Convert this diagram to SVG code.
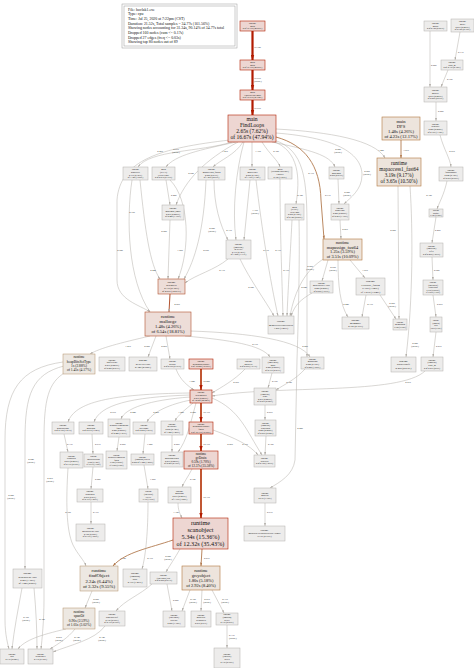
<svg xmlns="http://www.w3.org/2000/svg" width="474" height="668" viewBox="0 0 474 668">
<style>
text{font-family:"Liberation Serif","DejaVu Serif",serif;fill:#111}
.s{font-size:2.3px;text-anchor:middle}
.l{font-size:2.6px;text-anchor:middle;fill:#333}
.ls{font-size:2.6px;text-anchor:start;fill:#333}
.lg{font-size:3.9px}
.g rect{fill:#edeceb;stroke:#b2b0ad;stroke-width:0.5}
.r rect{fill:#edd6d2;stroke:#b21e00;stroke-width:0.6}
.t rect{fill:#ede4dc;stroke:#b2773f;stroke-width:0.6}
.k rect{fill:#edddd8;stroke:#b2532f;stroke-width:0.6}
.y rect{fill:#ede8e2;stroke:#b2916a;stroke-width:0.5}
.e path{fill:none;stroke:#b2aea8;stroke-width:0.5;marker-end:url(#ag)}
.e path.rd{stroke:#b21b00;stroke-width:2.2;marker-end:url(#ar)}
.e path.rm{stroke:#b22d00;stroke-width:1.6;marker-end:url(#ar)}
.e path.br{stroke:#b27a4f;stroke-width:0.9;marker-end:url(#ab)}
</style>
<defs>
<marker id="ag" viewBox="0 0 6 4" refX="6" refY="2" markerWidth="3" markerHeight="2" markerUnits="userSpaceOnUse" orient="auto"><path d="M0,0L6,2L0,4z" fill="#b2aea8"/></marker>
<marker id="ar" viewBox="0 0 6 4" refX="6" refY="2" markerWidth="5" markerHeight="4" markerUnits="userSpaceOnUse" orient="auto"><path d="M0,0L6,2L0,4z" fill="#b21b00"/></marker>
<marker id="ab" viewBox="0 0 6 4" refX="6" refY="2" markerWidth="3.5" markerHeight="2.6" markerUnits="userSpaceOnUse" orient="auto"><path d="M0,0L6,2L0,4z" fill="#b27a4f"/></marker>
</defs>
<rect width="474" height="668" fill="#fff"/>

<g id="legend">
<rect x="122" y="4" width="115" height="44" fill="#fff" stroke="#999" stroke-width="0.5"/>
<rect x="124" y="6" width="111" height="40" fill="none" stroke="#999" stroke-width="0.5"/>
<text class="lg" x="128" y="10.5">File: havlak1.exe</text>
<text class="lg" x="128" y="15.2">Type: cpu</text>
<text class="lg" x="128" y="19.9">Time: Jul 25, 2020 at 7:22pm (CST)</text>
<text class="lg" x="128" y="24.6">Duration: 21.52s, Total samples = 34.77s (161.56%)</text>
<text class="lg" x="128" y="29.3">Showing nodes accounting for 31.34s, 90.14% of 34.77s total</text>
<text class="lg" x="128" y="34">Dropped 160 nodes (cum &lt;= 0.17s)</text>
<text class="lg" x="128" y="38.7">Dropped 27 edges (freq &lt;= 0.03s)</text>
<text class="lg" x="128" y="43.4">Showing top 80 nodes out of 89</text>
</g>

<g id="edges" class="e">
<path class="rd" d="M252.5,31L252.5,60"/>
<path class="rd" d="M252.5,70L252.5,90"/>
<path class="rd" d="M252.5,100L252.5,115"/>
<path d="M232,142C200,152 150,150 138,167"/>
<path d="M236,142C200,150 175,155 166,167"/>
<path d="M243,142C235,155 220,160 213,167"/>
<path d="M252,142L252,167"/>
<path d="M262,142C270,155 278,160 280,167"/>
<path d="M272,142C310,150 330,155 335,167"/>
<path d="M230,140C160,148 120,160 117,200L117,280C117,300 140,305 150,312"/>
<path d="M238,142C205,160 185,180 176,205"/>
<path d="M244,142C236,170 232,210 236,240"/>
<path d="M272,141C300,150 300,180 296,204"/>
<path d="M274,140C305,150 307,180 307,230L307,357"/>
<path class="br" d="M276,137C305,145 320,165 321,200L324,239"/>
<path d="M276,133C340,138 362,155 362,175C362,190 350,198 344,204"/>
<path d="M338,179L339,204"/>
<path d="M340,220L341,239"/>
<path d="M276,129C330,132 375,140 385,158"/>
<path class="br" d="M401,140L401,158"/>
<path d="M440,135C444,150 450,158 451,167"/>
<path d="M430,31L430,87"/>
<path d="M460,32L455,60"/>
<path d="M448,70L441,87"/>
<path d="M436,102L436,121"/>
<path d="M447,181C444,195 439,203 437,209"/>
<path d="M436,217L432,243"/>
<path d="M432,257L433,280"/>
<path d="M433,295L436,317"/>
<path d="M436,332L433,357"/>
<path d="M425,371C400,395 280,385 212,396"/>
<path d="M398,186L399,319"/>
<path d="M410,186C413,230 413,300 406,357"/>
<path d="M328,260L322,281"/>
<path d="M350,260L365,278"/>
<path d="M325,258C305,270 295,290 290,316"/>
<path d="M338,260C338,285 340,305 348,317"/>
<path d="M366,295L362,317"/>
<path d="M380,295L396,319"/>
<path d="M166,180L170,205"/>
<path d="M170,220L168,279"/>
<path d="M170,180C190,200 190,250 178,279"/>
<path d="M140,180C145,230 150,265 160,279"/>
<path d="M132,180C126,220 128,280 150,312"/>
<path d="M206,180C204,230 195,260 184,279"/>
<path d="M214,180C214,205 220,225 228,240"/>
<path d="M250,180L244,240"/>
<path d="M228,259C215,270 195,275 185,283"/>
<path d="M240,259C250,280 265,300 274,316"/>
<path d="M256,180C262,230 270,280 278,316"/>
<path d="M280,179C280,230 282,280 283,316"/>
<path d="M292,220C290,260 288,290 287,316"/>
<path d="M312,293C300,300 295,305 291,316"/>
<path d="M299,220C300,260 298,330 297,360L295,460C293,475 280,482 270,488"/>
<path class="k2" d="M170,294L169,312" style="stroke:#b2532f;stroke-width:1"/>
<path d="M150,336C120,343 100,348 90,354"/>
<path d="M156,336L148,357"/>
<path d="M166,336L170,359"/>
<path d="M185,336C230,340 262,345 270,357"/>
<path d="M190,331C250,333 300,340 310,357"/>
<path d="M176,369C180,380 188,386 194,390"/>
<path class="rm" d="M201,369L201,390"/>
<path d="M245,369C235,380 220,388 212,393"/>
<path d="M272,373L268,388"/>
<path d="M305,369C295,380 285,384 276,390"/>
<path class="rm" d="M201,403L201,422"/>
<path d="M193,403C185,410 178,415 175,421"/>
<path d="M196,403C190,425 187,440 178,452"/>
<path d="M265,405L265,420"/>
<path class="rm" d="M201,434L201,451"/>
<path d="M172,435L172,452"/>
<path d="M213,430C235,438 250,445 258,455"/>
<path d="M212,398C240,410 246,430 262,455"/>
<path d="M266,436L265,455"/>
<path d="M192,469C188,477 184,482 182,487"/>
<path class="rm" d="M201,469L201,518"/>
<path d="M178,503C178,510 180,514 182,518"/>
<path d="M265,503L265,526"/>
<path d="M190,393C110,394 75,402 68,422"/>
<path d="M190,395C130,397 100,405 94,422"/>
<path d="M190,397C150,400 125,408 121,419"/>
<path d="M191,400C170,404 152,412 147,422"/>
<path d="M64,434L68,452"/>
<path d="M92,434L93,454"/>
<path d="M119,437L117,451"/>
<path d="M145,434L143,454"/>
<path d="M93,467L91,489"/>
<path d="M144,465L148,489"/>
<path d="M68,468C66,500 66,530 73,545C78,555 84,560 86,566"/>
<path d="M91,502L91,524"/>
<path class="br" d="M173,540C150,548 125,552 113,566"/>
<path d="M148,502C148,530 146,555 142,569"/>
<path d="M180,549C175,558 170,565 166,572"/>
<path class="br" d="M202,549L201,566"/>
<path d="M167,584L172,611"/>
<path d="M190,590L182,611"/>
<path d="M202,590L201,611"/>
<path d="M212,590L224,613"/>
<path d="M152,584C140,595 125,600 116,611"/>
<path d="M227,625L227,648"/>
<path d="M92,591L85,608"/>
<path d="M63,362C20,368 5,390 5,440L5,620C5,635 8,645 9,649"/>
<path d="M64,366C32,374 25,395 25,440L25,569"/>
<path d="M66,372C48,382 44,400 44,440L44,600C44,620 42,640 41,649"/>
<path d="M22,588C18,610 14,630 12,649"/>
<path d="M34,588C36,610 37,630 37,649"/>
<path d="M66,629C40,635 25,640 18,649"/>
<path d="M75,629C68,638 58,644 50,649"/>
<path d="M105,626C95,640 70,645 53,652"/>
</g>

<g id="edge-labels">
<text class="ls" x="254" y="48">16.79s</text>
<text class="ls" x="254" y="79">16.67s</text><text class="ls" x="254" y="82">(inline)</text>
<text class="ls" x="254" y="109">16.67s</text>
<text class="l" x="160" y="152">0.46s</text>
<text class="l" x="176" y="150">0.83s</text><text class="l" x="176" y="153">(inline)</text>
<text class="l" x="225" y="152">1.47s</text>
<text class="l" x="258" y="152">1.16s</text>
<text class="l" x="276" y="152">0.38s</text>
<text class="l" x="338" y="150">0.29s</text><text class="l" x="338" y="153">(inline)</text>
<text class="l" x="120" y="251">0.59s</text>
<text class="l" x="191" y="174">0.60s</text>
<text class="l" x="229" y="231">0.17s</text>
<text class="l" x="300" y="196">0.30s</text>
<text class="l" x="311" y="174">0.31s</text>
<text class="ls" x="325" y="196">2.71s</text>
<text class="l" x="367" y="172">0.25s</text><text class="l" x="367" y="175">(inline)</text>
<text class="l" x="347" y="193">0.29s</text><text class="l" x="347" y="196">(inline)</text>
<text class="l" x="345" y="230">0.47s</text>
<text class="l" x="381" y="151">1.40s</text>
<text class="l" x="406" y="151">3.21s</text>
<text class="l" x="452" y="152">0.23s</text>
<text class="ls" x="431" y="66">0.28s</text>
<text class="ls" x="458" y="53">0.11s</text>
<text class="ls" x="447" y="80">0.18s</text>
<text class="ls" x="438" y="112">0.28s</text>
<text class="l" x="429" y="196">0.32s</text>
<text class="ls" x="435" y="231">0.45s</text>
<text class="ls" x="434" y="271">0.59s</text>
<text class="ls" x="437" y="305">0.27s</text>
<text class="ls" x="436" y="347">0.21s</text>
<text class="l" x="408" y="383">0.21s</text>
<text class="l" x="393" y="231">0.28s</text>
<text class="l" x="415" y="344">0.29s</text><text class="l" x="415" y="347">(inline)</text>
<text class="l" x="333" y="268">0.65s</text><text class="l" x="333" y="271">(inline)</text>
<text class="l" x="365" y="271">1.23s</text>
<text class="l" x="310" y="267">0.25s</text><text class="l" x="310" y="270">(inline)</text>
<text class="l" x="346" y="305">0.44s</text>
<text class="l" x="370" y="305">0.17s</text>
<text class="l" x="392" y="304">0.25s</text><text class="l" x="392" y="307">(inline)</text>
<text class="ls" x="171" y="196">0.40s</text>
<text class="l" x="164" y="232">0.28s</text>
<text class="l" x="180" y="251">1.25s</text>
<text class="l" x="153" y="271">0.44s</text>
<text class="l" x="132" y="213">0.75s</text>
<text class="l" x="206" y="251">0.65s</text>
<text class="l" x="212" y="229">0.80s</text><text class="l" x="212" y="232">(inline)</text>
<text class="l" x="255" y="211">1.16s</text><text class="l" x="255" y="214">(inline)</text>
<text class="l" x="222" y="271">0.13s</text>
<text class="l" x="251" y="288">0.59s</text>
<text class="l" x="266" y="251">0.13s</text>
<text class="l" x="278" y="251">0.17s</text>
<text class="l" x="286" y="271">0.17s</text>
<text class="l" x="304" y="288">0.84s</text>
<text class="l" x="300" y="429">0.49s</text>
<text class="l" x="177" y="305">4.86s</text>
<text class="l" x="128" y="347">1.41s</text>
<text class="l" x="147" y="347">0.28s</text>
<text class="l" x="164" y="347">0.96s</text>
<text class="l" x="255" y="345">0.77s</text>
<text class="l" x="305" y="347">0.45s</text>
<text class="l" x="192" y="382">1.24s</text>
<text class="ls" x="203" y="382">12.40s</text>
<text class="l" x="236" y="383">0.56s</text>
<text class="ls" x="272" y="382">0.75s</text>
<text class="l" x="289" y="383">0.32s</text>
<text class="l" x="181" y="413">1.20s</text>
<text class="l" x="193" y="413">0.22s</text>
<text class="ls" x="203" y="413">12.37s</text>
<text class="ls" x="267" y="413">0.87s</text>
<text class="ls" x="174" y="445">0.26s</text>
<text class="ls" x="203" y="445">12.37s</text>
<text class="l" x="230" y="445">0.26s</text>
<text class="l" x="245" y="445">0.17s</text>
<text class="ls" x="268" y="445">0.38s</text>
<text class="ls" x="190" y="480">0.14s</text>
<text class="ls" x="203" y="498">12.33s</text>
<text class="l" x="176" y="513">1.19s</text>
<text class="ls" x="267" y="513">0.61s</text>
<text class="l" x="113" y="413">0.57s</text>
<text class="l" x="133" y="413">0.44s</text>
<text class="l" x="156" y="413">0.45s</text>
<text class="ls" x="67" y="445">0.33s</text>
<text class="ls" x="95" y="445">0.61s</text>
<text class="ls" x="120" y="445">0.25s</text>
<text class="ls" x="147" y="445">1.20s</text>
<text class="ls" x="95" y="480">0.20s</text>
<text class="ls" x="150" y="480">1.25s</text>
<text class="l" x="68" y="513">0.35s</text>
<text class="ls" x="93" y="513">0.37s</text>
<text class="l" x="123" y="559">3.32s</text>
<text class="l" x="150" y="559">0.37s</text>
<text class="l" x="168" y="557">0.22s</text><text class="l" x="168" y="560">(inline)</text>
<text class="ls" x="204" y="559">2.81s</text>
<text class="ls" x="173" y="601">0.28s</text>
<text class="l" x="193" y="600">0.18s</text><text class="l" x="193" y="603">(inline)</text>
<text class="l" x="207" y="600">0.21s</text><text class="l" x="207" y="603">(inline)</text>
<text class="l" x="225" y="600">0.31s</text><text class="l" x="225" y="603">(inline)</text>
<text class="ls" x="229" y="636">0.33s</text><text class="ls" x="229" y="639">(inline)</text>
<text class="l" x="96" y="600">0.88s</text><text class="l" x="96" y="603">(inline)</text>
<text class="l" x="11" y="496">0.29s</text><text class="l" x="11" y="499">(inline)</text>
<text class="l" x="31" y="460">0.84s</text><text class="l" x="31" y="463">(inline)</text>
<text class="l" x="50" y="479">0.47s</text><text class="l" x="50" y="482">(inline)</text>
<text class="l" x="26" y="618">0.35s</text><text class="l" x="26" y="621">(inline)</text>
<text class="l" x="42" y="620">0.32s</text>
<text class="l" x="59" y="638">0.07s</text><text class="l" x="59" y="641">(inline)</text>
<text class="l" x="77" y="638">0.14s</text><text class="l" x="77" y="641">(inline)</text>
<text class="l" x="102" y="638">0.14s</text><text class="l" x="102" y="641">(inline)</text>
</g>

<g id="n_rtmain" class="r"><rect x="240" y="21" width="25" height="10"/><text class="s" x="252.5" y="24.1">runtime<tspan x="252.5" dy="2.6">main</tspan><tspan x="252.5" dy="2.6">0 of 16.79s (48.29%)</tspan></text></g>
<g id="n_mainmain" class="r"><rect x="240" y="60" width="25" height="10"/><text class="s" x="252.5" y="63.1">main<tspan x="252.5" dy="2.6">main</tspan><tspan x="252.5" dy="2.6">0 of 16.79s (48.29%)</tspan></text></g>
<g id="n_havlak" class="r"><rect x="240" y="90" width="25" height="10"/><text class="s" x="252.5" y="93.1">main<tspan x="252.5" dy="2.6">FindHavlakLoops</tspan><tspan x="252.5" dy="2.6">0 of 16.67s (47.94%)</tspan></text></g>
<g id="n_findloops" class="r"><rect x="228" y="115" width="48" height="27"/><text x="252" y="121.2" font-size="5.6" text-anchor="middle">main<tspan x="252" dy="6">FindLoops</tspan><tspan x="252" dy="6">2.65s (7.62%)</tspan><tspan x="252" dy="6">of 16.67s (47.94%)</tspan></text></g>

<g id="n_mstart" class="g"><rect x="424" y="21" width="23" height="10"/><text class="s" x="435.5" y="24.1">runtime<tspan x="435.5" dy="2.6">mstart</tspan><tspan x="435.5" dy="2.6">0 of 0.30s (0.86%)</tspan></text></g>
<g id="n_mcall" class="g"><rect x="451" y="19" width="23" height="13"/><text class="s" x="462.5" y="22.3">runtime<tspan x="462.5" dy="2.6">mcall</tspan><tspan x="462.5" dy="2.6">0.01s (0.029%)</tspan><tspan x="462.5" dy="2.6">of 0.12s (0.35%)</tspan></text></g>
<g id="n_parkm" class="g"><rect x="441" y="60" width="22" height="10"/><text class="s" x="452" y="63.1">runtime<tspan x="452" dy="2.6">park_m</tspan><tspan x="452" dy="2.6">0 of 0.11s (0.32%)</tspan></text></g>
<g id="n_mstart1" class="g"><rect x="424" y="87" width="23" height="15"/><text class="s" x="435.5" y="91.3">runtime<tspan x="435.5" dy="2.6">mstart1</tspan><tspan x="435.5" dy="2.6">0.01s (0.029%)</tspan><tspan x="435.5" dy="2.6">of 0.29s (0.83%)</tspan></text></g>
<g id="n_schedule" class="g"><rect x="424" y="121" width="23" height="14"/><text class="s" x="435.5" y="124.8">runtime<tspan x="435.5" dy="2.6">schedule</tspan><tspan x="435.5" dy="2.6">0.02s (0.058%)</tspan><tspan x="435.5" dy="2.6">of 0.39s (1.12%)</tspan></text></g>
<g id="n_dfs" class="t"><rect x="382" y="117" width="38" height="23"/><text x="401" y="122.7" font-size="4.6" text-anchor="middle">main<tspan x="401" dy="5">DFS</tspan><tspan x="401" dy="5">1.48s (4.26%)</tspan><tspan x="401" dy="5">of 4.23s (12.17%)</tspan></text></g>
<g id="n_mapaccess1" class="t"><rect x="377" y="158" width="44" height="28"/><text x="399" y="164.8" font-size="5.1" text-anchor="middle">runtime<tspan x="399" dy="6.1">mapaccess1_fast64</tspan><tspan x="399" dy="6.1">3.19s (9.17%)</tspan><tspan x="399" dy="6.1">of 3.65s (10.50%)</tspan></text></g>
<g id="n_findrunnable" class="g"><rect x="439" y="167" width="24" height="14"/><text class="s" x="451" y="170.8">runtime<tspan x="451" dy="2.6">findrunnable</tspan><tspan x="451" dy="2.6">0.04s (0.12%)</tspan><tspan x="451" dy="2.6">of 0.23s (0.66%)</tspan></text></g>

<g id="n_growslice" class="g"><rect x="123" y="167" width="25" height="13"/><text class="s" x="135.5" y="170.3">runtime<tspan x="135.5" dy="2.6">growslice</tspan><tspan x="135.5" dy="2.6">0.11s (0.32%)</tspan><tspan x="135.5" dy="2.6">of 1.34s (3.85%)</tspan></text></g>
<g id="n_createnode" class="g"><rect x="152" y="167" width="23" height="13"/><text class="s" x="163.5" y="170.3">main<tspan x="163.5" dy="2.6">(*CFG)</tspan><tspan x="163.5" dy="2.6">CreateNode</tspan><tspan x="163.5" dy="2.6">0 of 0.83s (2.39%)</tspan></text></g>
<g id="n_mapaccess2" class="g"><rect x="198" y="167" width="27" height="13"/><text class="s" x="211.5" y="170.3">runtime<tspan x="211.5" dy="2.6">mapaccess2_fast64</tspan><tspan x="211.5" dy="2.6">0.28s (0.81%)</tspan><tspan x="211.5" dy="2.6">of 1.47s (4.23%)</tspan></text></g>
<g id="n_mapiterinit" class="g"><rect x="240" y="167" width="25" height="13"/><text class="s" x="252.5" y="170.3">runtime<tspan x="252.5" dy="2.6">mapiterinit</tspan><tspan x="252.5" dy="2.6">0.05s (0.14%)</tspan><tspan x="252.5" dy="2.6">of 1.16s (3.34%)</tspan></text></g>
<g id="n_findset" class="g"><rect x="268" y="167" width="24" height="12"/><text class="s" x="280" y="169.8">main<tspan x="280" dy="2.6">(*UnionFindNode)</tspan><tspan x="280" dy="2.6">FindSet</tspan><tspan x="280" dy="2.6">0.38s (1.09%)</tspan></text></g>
<g id="n_makemap" class="g"><rect x="329" y="167" width="15" height="12"/><text class="s" x="336.5" y="171.1">runtime<tspan x="336.5" dy="2.6">makemap</tspan><tspan x="336.5" dy="2.6">0.29s (0.83%)</tspan></text></g>

<g id="n_makemapsmall" class="g"><rect x="162" y="205" width="22" height="15"/><text class="s" x="173" y="209.3">runtime<tspan x="173" dy="2.6">makemap_small</tspan><tspan x="173" dy="2.6">0.03s (0.086%)</tspan><tspan x="173" dy="2.6">of 0.40s (1.15%)</tspan></text></g>
<g id="n_newloop" class="g"><rect x="285" y="204" width="19" height="16"/><text class="s" x="294.5" y="207.5">main<tspan x="294.5" dy="2.6">(*LSG)</tspan><tspan x="294.5" dy="2.6">NewLoop</tspan><tspan x="294.5" dy="2.6">0.05s (0.14%)</tspan><tspan x="294.5" dy="2.6">of 0.30s (0.86%)</tspan></text></g>
<g id="n_hashgrow" class="g"><rect x="331" y="204" width="18" height="16"/><text class="s" x="340" y="208.8">runtime<tspan x="340" dy="2.6">hashGrow</tspan><tspan x="340" dy="2.6">0.02s (0.058%)</tspan><tspan x="340" dy="2.6">of 0.47s (1.35%)</tspan></text></g>
<g id="n_runqget" class="g"><rect x="429" y="209" width="14" height="8"/><text class="s" x="436" y="211.2" style="font-size:2px">runtime<tspan x="436" dy="2.3">runqget</tspan><tspan x="436" dy="2.3">0.32s (0.92%)</tspan></text></g>
<g id="n_nextfree" class="g"><rect x="226" y="240" width="25" height="19"/><text class="s" x="238.5" y="245">runtime<tspan x="238.5" dy="2.6">(*mcache)</tspan><tspan x="238.5" dy="2.6">nextFree</tspan><tspan x="238.5" dy="2.6">0.11s (0.32%)</tspan><tspan x="238.5" dy="2.6">of 1.08s (3.11%)</tspan></text></g>
<g id="n_mapassign" class="t"><rect x="323" y="239" width="39" height="21"/><text x="342.5" y="243.7" font-size="4.4" text-anchor="middle">runtime<tspan x="342.5" dy="4.8">mapassign_fast64</tspan><tspan x="342.5" dy="4.8">1.25s (3.59%)</tspan><tspan x="342.5" dy="4.8">of 3.51s (10.09%)</tspan></text></g>
<g id="n_refill" class="g"><rect x="420" y="243" width="23" height="14"/><text class="s" x="431.5" y="246.8">runtime<tspan x="431.5" dy="2.6">(*mcache)</tspan><tspan x="431.5" dy="2.6">refill</tspan><tspan x="431.5" dy="2.6">0 of 0.45s (1.29%)</tspan></text></g>

<g id="n_newobject" class="k"><rect x="158" y="279" width="27" height="15"/><text x="171.5" y="282.7" font-size="2.6" text-anchor="middle">runtime<tspan x="171.5" dy="3">newobject</tspan><tspan x="171.5" dy="3">0.11s (0.32%)</tspan><tspan x="171.5" dy="3">of 4.87s (14.01%)</tspan></text></g>
<g id="n_makebucketarray" class="g"><rect x="310" y="281" width="23" height="12"/><text class="s" x="321.5" y="283.8">runtime<tspan x="321.5" dy="2.6">makeBucketArray</tspan><tspan x="321.5" dy="2.6">0.02s (0.058%)</tspan><tspan x="321.5" dy="2.6">of 0.65s (1.87%)</tspan></text></g>
<g id="n_evacuate" class="g"><rect x="356" y="278" width="29" height="17"/><text x="370.5" y="282" font-size="2.9" text-anchor="middle">runtime<tspan x="370.5" dy="3.5">evacuate_fast64</tspan><tspan x="370.5" dy="3.5">0.36s (1.04%)</tspan><tspan x="370.5" dy="3.5">of 1.23s (3.54%)</tspan></text></g>
<g id="n_cachespan" class="g"><rect x="423" y="280" width="20" height="15"/><text class="s" x="433" y="283" style="font-size:2.1px">runtime<tspan x="433" dy="2.5">(*mcentral)</tspan><tspan x="433" dy="2.5">cacheSpan</tspan><tspan x="433" dy="2.5">0.03s (0.086%)</tspan><tspan x="433" dy="2.5">of 0.59s (1.70%)</tspan></text></g>

<g id="n_mallocgc" class="k"><rect x="145" y="312" width="46" height="24"/><text x="168" y="317.8" font-size="4.6" text-anchor="middle">runtime<tspan x="168" dy="5">mallocgc</tspan><tspan x="168" dy="5">1.48s (4.26%)</tspan><tspan x="168" dy="5">of 6.54s (18.81%)</tspan></text></g>
<g id="n_memclr" class="g"><rect x="268" y="316" width="26" height="18"/><text x="281" y="322.3" font-size="2.5" text-anchor="middle">runtime<tspan x="281" dy="3.2">memclrNoHeapPointers</tspan><tspan x="281" dy="3.2">1.20s (3.45%)</tspan></text></g>
<g id="n_memmove" class="g"><rect x="342" y="317" width="27" height="12"/><text x="355.5" y="320.7" font-size="2.6" text-anchor="middle">runtime<tspan x="355.5" dy="3">memmove</tspan><tspan x="355.5" dy="3">0.75s (2.16%)</tspan></text></g>
<g id="n_memhash" class="g"><rect x="393" y="319" width="14" height="11"/><text class="s" x="400" y="322.5" style="font-size:2.1px">runtime<tspan x="400" dy="2.6">memhash64</tspan><tspan x="400" dy="2.6">0.32s (0.92%)</tspan></text></g>
<g id="n_mheapalloc" class="g"><rect x="430" y="317" width="12" height="15"/><text class="s" x="436" y="321.2" style="font-size:1.9px">runtime<tspan x="436" dy="2.5">(*mheap)</tspan><tspan x="436" dy="2.5">alloc</tspan><tspan x="436" dy="2.5">0.27s (0.78%)</tspan></text></g>

<g id="n_heapbitssettype" class="y"><rect x="63" y="354" width="32" height="20"/><text x="79" y="358.2" font-size="3.6" text-anchor="middle">runtime<tspan x="79" dy="4.4">heapBitsSetType</tspan><tspan x="79" dy="4.4">1s (2.88%)</tspan><tspan x="79" dy="4.4">of 1.45s (4.17%)</tspan></text></g>
<g id="n_profilealloc" class="g"><rect x="99" y="357" width="26" height="14"/><text class="s" x="112" y="360.8">runtime<tspan x="112" dy="2.6">profilealloc</tspan><tspan x="112" dy="2.6">0.01s (0.029%)</tspan><tspan x="112" dy="2.6">of 0.28s (0.81%)</tspan></text></g>
<g id="n_nextfreefast" class="g"><rect x="129" y="357" width="28" height="14"/><text x="143" y="361.4" font-size="2.8" text-anchor="middle">runtime<tspan x="143" dy="3.3">nextFreeFast</tspan><tspan x="143" dy="3.3">0.34s (0.98%)</tspan></text></g>
<g id="n_gcstart" class="g"><rect x="161" y="359" width="23" height="10"/><text class="s" x="172.5" y="362.1">runtime<tspan x="172.5" dy="2.6">gcStart</tspan><tspan x="172.5" dy="2.6">0 of 0.96s (2.76%)</tspan></text></g>
<g id="n_gcbgmarkworker" class="r"><rect x="189" y="359" width="24" height="10"/><text class="s" x="201" y="362.1">runtime<tspan x="201" dy="2.6">gcBgMarkWorker</tspan><tspan x="201" dy="2.6">0 of 12.40s (35.66%)</tspan></text></g>
<g id="n_bgsweep" class="g"><rect x="237" y="359" width="23" height="10"/><text class="s" x="248.5" y="362.1">runtime<tspan x="248.5" dy="2.6">bgsweep</tspan><tspan x="248.5" dy="2.6">0 of 0.56s (1.61%)</tspan></text></g>
<g id="n_grow" class="g"><rect x="262" y="357" width="22" height="16"/><text class="s" x="273" y="360.5">runtime<tspan x="273" dy="2.6">(*mcentral)</tspan><tspan x="273" dy="2.6">grow</tspan><tspan x="273" dy="2.6">0.02s (0.058%)</tspan><tspan x="273" dy="2.6">of 0.77s (2.21%)</tspan></text></g>
<g id="n_mapassign2" class="g"><rect x="301" y="357" width="23" height="12"/><text class="s" x="312.5" y="359.8">runtime<tspan x="312.5" dy="2.6">mapassign</tspan><tspan x="312.5" dy="2.6">0.04s (0.12%)</tspan><tspan x="312.5" dy="2.6">of 0.45s (1.29%)</tspan></text></g>
<g id="n_bucketshift" class="g"><rect x="391" y="357" width="25" height="15"/><text x="403.5" y="361.9" font-size="2.8" text-anchor="middle">runtime<tspan x="403.5" dy="3.3">bucketShift</tspan><tspan x="403.5" dy="3.3">0.29s (0.83%)</tspan></text></g>
<g id="n_allocspan1" class="g"><rect x="421" y="357" width="22" height="14"/><text class="s" x="432" y="360.8">runtime<tspan x="432" dy="2.6">(*mheap)</tspan><tspan x="432" dy="2.6">alloc_m</tspan><tspan x="432" dy="2.6">0 of 0.21s (0.6%)</tspan></text></g>

<g id="n_systemstack" class="r"><rect x="190" y="390" width="22" height="13"/><text class="s" x="201" y="393.3">runtime<tspan x="201" dy="2.6">systemstack</tspan><tspan x="201" dy="2.6">0.01s (0.029%)</tspan><tspan x="201" dy="2.6">of 14.06s (40.44%)</tspan></text></g>
<g id="n_mheapalloc2" class="g"><rect x="254" y="388" width="22" height="17"/><text class="s" x="265" y="392">runtime<tspan x="265" dy="2.6">(*mheap)</tspan><tspan x="265" dy="2.6">alloc</tspan><tspan x="265" dy="2.6">0.01s (0.029%)</tspan><tspan x="265" dy="2.6">of 0.87s (2.50%)</tspan></text></g>

<g id="n_gcmarkdone" class="g"><rect x="52" y="422" width="22" height="12"/><text class="s" x="63" y="426.1">runtime<tspan x="63" dy="2.6">gcMarkDone</tspan><tspan x="63" dy="2.6">0 of 0.35s (1.01%)</tspan></text></g>
<g id="n_markroot" class="g"><rect x="79" y="422" width="24" height="12"/><text class="s" x="91" y="426.1">runtime<tspan x="91" dy="2.6">markroot</tspan><tspan x="91" dy="2.6">0 of 0.57s (1.64%)</tspan></text></g>
<g id="n_gcmarkterm" class="g"><rect x="108" y="419" width="22" height="18"/><text class="s" x="119" y="423.5">runtime<tspan x="119" dy="2.6">gcMarkTermination</tspan><tspan x="119" dy="2.6">func1</tspan><tspan x="119" dy="2.6">0.02s (0.058%)</tspan><tspan x="119" dy="2.6">of 0.44s (1.27%)</tspan></text></g>
<g id="n_sweepone" class="g"><rect x="133" y="422" width="22" height="12"/><text class="s" x="144" y="426.1">runtime<tspan x="144" dy="2.6">sweepone</tspan><tspan x="144" dy="2.6">0 of 0.45s (1.29%)</tspan></text></g>
<g id="n_gcdrainn" class="g"><rect x="161" y="421" width="22" height="14"/><text class="s" x="172" y="424.8">runtime<tspan x="172" dy="2.6">gcDrainN</tspan><tspan x="172" dy="2.6">0.05s (0.14%)</tspan><tspan x="172" dy="2.6">of 1.20s (3.45%)</tspan></text></g>
<g id="n_func2" class="r"><rect x="189" y="422" width="24" height="12"/><text class="s" x="201" y="424.8">runtime<tspan x="201" dy="2.6">gcBgMarkWorker</tspan><tspan x="201" dy="2.6">func2</tspan><tspan x="201" dy="2.6">0 of 12.37s (35.58%)</tspan></text></g>
<g id="n_allocspan2" class="g"><rect x="255" y="420" width="21" height="16"/><text class="s" x="265.5" y="423.5">runtime<tspan x="265.5" dy="2.6">(*mheap)</tspan><tspan x="265.5" dy="2.6">allocSpan</tspan><tspan x="265.5" dy="2.6">0.02s (0.058%)</tspan><tspan x="265.5" dy="2.6">of 0.87s (2.50%)</tspan></text></g>

<g id="n_scanstack" class="g"><rect x="60" y="452" width="23" height="16"/><text class="s" x="71.5" y="456.8">runtime<tspan x="71.5" dy="2.6">scanstack</tspan><tspan x="71.5" dy="2.6">0.01s (0.029%)</tspan><tspan x="71.5" dy="2.6">of 0.33s (0.95%)</tspan></text></g>
<g id="n_markrootspans" class="g"><rect x="84" y="454" width="19" height="13"/><text class="s" x="93.5" y="457.3" style="font-size:2.1px">runtime<tspan x="93.5" dy="2.6">markrootSpans</tspan><tspan x="93.5" dy="2.6">0.05s (0.14%)</tspan><tspan x="93.5" dy="2.6">of 0.61s (1.75%)</tspan></text></g>
<g id="n_func4" class="g"><rect x="106" y="451" width="21" height="18"/><text class="s" x="116.5" y="455.5" style="font-size:2.1px">runtime<tspan x="116.5" dy="2.6">gcMarkTermination</tspan><tspan x="116.5" dy="2.6">func4</tspan><tspan x="116.5" dy="2.6">0.02s (0.058%)</tspan><tspan x="116.5" dy="2.6">of 0.25s (0.72%)</tspan></text></g>
<g id="n_sweep" class="g"><rect x="131" y="454" width="23" height="11"/><text class="s" x="142.5" y="457.6">runtime<tspan x="142.5" dy="2.6">(*mspan) sweep</tspan><tspan x="142.5" dy="2.6">0.05s of 1.20s (3.45%)</tspan></text></g>
<g id="n_markrootblock" class="g"><rect x="161" y="452" width="22" height="15"/><text class="s" x="172" y="456.3">runtime<tspan x="172" dy="2.6">markrootBlock</tspan><tspan x="172" dy="2.6">0.01s (0.029%)</tspan><tspan x="172" dy="2.6">of 0.26s (0.75%)</tspan></text></g>
<g id="n_gcdrain" class="r"><rect x="184" y="451" width="34" height="18"/><text x="201" y="455" font-size="3.4" text-anchor="middle">runtime<tspan x="201" dy="3.9">gcDrain</tspan><tspan x="201" dy="3.9">0.59s (1.70%)</tspan><tspan x="201" dy="3.9">of 12.37s (35.58%)</tspan></text></g>
<g id="n_sysused" class="g"><rect x="254" y="455" width="21" height="12"/><text class="s" x="264.5" y="459.1">runtime<tspan x="264.5" dy="2.6">sysUsed</tspan><tspan x="264.5" dy="2.6">0 of 0.38s (1.09%)</tspan></text></g>

<g id="n_scanblock" class="g"><rect x="77" y="489" width="26" height="13"/><text class="s" x="90" y="492.3">runtime<tspan x="90" dy="2.6">scanblock</tspan><tspan x="90" dy="2.6">0.07s (0.2%)</tspan><tspan x="90" dy="2.6">of 0.37s (1.06%)</tspan></text></g>
<g id="n_tryget" class="g"><rect x="139" y="489" width="19" height="13"/><text class="s" x="148.5" y="492.3" style="font-size:2.1px">runtime<tspan x="148.5" dy="2.6">(*gcWork)</tspan><tspan x="148.5" dy="2.6">tryGet</tspan><tspan x="148.5" dy="2.6">0.37s (1.06%)</tspan></text></g>
<g id="n_markroot2" class="g"><rect x="168" y="487" width="23" height="16"/><text class="s" x="179.5" y="491.8">runtime<tspan x="179.5" dy="2.6">markroot</tspan><tspan x="179.5" dy="2.6">0.01s (0.029%)</tspan><tspan x="179.5" dy="2.6">of 1.19s (3.42%)</tspan></text></g>
<g id="n_madvise" class="g"><rect x="254" y="488" width="22" height="15"/><text class="s" x="265" y="493.6">runtime<tspan x="265" dy="2.6">madvise</tspan><tspan x="265" dy="2.6">0.61s (1.75%)</tspan></text></g>

<g id="n_markbitsforaddr" class="g"><rect x="76" y="524" width="29" height="17"/><text class="s" x="90.5" y="529.3">runtime<tspan x="90.5" dy="2.6">markBitsForAddr</tspan><tspan x="90.5" dy="2.6">0.18s (0.52%)</tspan><tspan x="90.5" dy="2.6">of 0.37s (1.06%)</tspan></text></g>
<g id="n_scanobject" class="r"><rect x="173" y="518" width="55" height="31"/><text x="200.5" y="524.7" font-size="6.2" text-anchor="middle">runtime<tspan x="200.5" dy="7">scanobject</tspan><tspan x="200.5" dy="7">5.34s (15.36%)</tspan><tspan x="200.5" dy="7">of 12.32s (35.43%)</tspan></text></g>
<g id="n_setmarked" class="g"><rect x="244" y="526" width="41" height="15"/><text x="264.5" y="531.1" font-size="2.5" text-anchor="middle">runtime<tspan x="264.5" dy="3">markBits.setMarkedNonAtomic</tspan><tspan x="264.5" dy="3">0.73s (2.10%)</tspan></text></g>

<g id="n_heapbitsforaddr" class="g"><rect x="13" y="569" width="29" height="19"/><text x="27.5" y="574.3" font-size="2.6" text-anchor="middle">runtime<tspan x="27.5" dy="3.2">heapBitsForAddr</tspan><tspan x="27.5" dy="3.2">0.46s (1.32%)</tspan><tspan x="27.5" dy="3.2">of 1.04s (2.99%)</tspan></text></g>
<g id="n_findobject" class="y"><rect x="80" y="566" width="38" height="25"/><text x="99" y="571.9" font-size="4.8" text-anchor="middle">runtime<tspan x="99" dy="5.3">findObject</tspan><tspan x="99" dy="5.3">2.24s (6.44%)</tspan><tspan x="99" dy="5.3">of 3.32s (9.55%)</tspan></text></g>
<g id="n_spanbase" class="g"><rect x="123" y="569" width="24" height="18"/><text x="135" y="573.8" font-size="2.6" text-anchor="middle">runtime<tspan x="135" dy="3.2">(*mspan)</tspan><tspan x="135" dy="3.2">base</tspan><tspan x="135" dy="3.2">0.37s (1.06%)</tspan></text></g>
<g id="n_gcworkput" class="g"><rect x="150" y="572" width="27" height="12"/><text class="s" x="163.5" y="576.1">runtime<tspan x="163.5" dy="2.6">(*gcWork) put</tspan><tspan x="163.5" dy="2.6">0 of 0.28s (0.81%)</tspan></text></g>
<g id="n_greyobject" class="t"><rect x="182" y="566" width="38" height="24"/><text x="201" y="571.7" font-size="4.4" text-anchor="middle">runtime<tspan x="201" dy="5">greyobject</tspan><tspan x="201" dy="5">1.80s (5.18%)</tspan><tspan x="201" dy="5">of 2.92s (8.40%)</tspan></text></g>

<g id="n_spanof" class="y"><rect x="63" y="608" width="32" height="21"/><text x="79" y="612.7" font-size="3.6" text-anchor="middle">runtime<tspan x="79" dy="4.4">spanOf</tspan><tspan x="79" dy="4.4">0.90s (2.59%)</tspan><tspan x="79" dy="4.4">of 1.05s (3.02%)</tspan></text></g>
<g id="n_pageindexof" class="g"><rect x="99" y="611" width="26" height="15"/><text class="s" x="112" y="615.3">runtime<tspan x="112" dy="2.6">pageIndexOf</tspan><tspan x="112" dy="2.6">0.19s (0.55%)</tspan><tspan x="112" dy="2.6">of 0.33s (0.95%)</tspan></text></g>
<g id="n_putfast" class="g"><rect x="163" y="611" width="22" height="16"/><text class="s" x="174" y="615.8">runtime<tspan x="174" dy="2.6">(*gcWork)</tspan><tspan x="174" dy="2.6">putFast</tspan><tspan x="174" dy="2.6">0.46s (1.32%)</tspan></text></g>
<g id="n_setmarkedbits" class="g"><rect x="191" y="611" width="20" height="16"/><text class="s" x="201" y="615.8">runtime<tspan x="201" dy="2.6">markBits</tspan><tspan x="201" dy="2.6">setMarked</tspan><tspan x="201" dy="2.6">0.21s (0.6%)</tspan></text></g>
<g id="n_arenaidx" class="g"><rect x="216" y="613" width="22" height="12"/><text class="s" x="227" y="615.3">runtime<tspan x="227" dy="2.6">(*mspan)</tspan><tspan x="227" dy="2.6">isFree</tspan><tspan x="227" dy="2.6">0.31s (0.89%)</tspan></text></g>

<g id="n_add" class="g"><rect x="0" y="649" width="24" height="15"/><text class="s" x="12" y="654.6">runtime<tspan x="12" dy="2.6">add</tspan><tspan x="12" dy="2.6">0.71s (2.04%)</tspan></text></g>
<g id="n_arenaindex" class="g"><rect x="28" y="649" width="25" height="15"/><text class="s" x="40.5" y="654.6">runtime<tspan x="40.5" dy="2.6">arenaIndex</tspan><tspan x="40.5" dy="2.6">0.73s (2.10%)</tspan></text></g>
<g id="n_bytep" class="g"><rect x="214" y="648" width="26" height="20"/><text class="s" x="227" y="654.8">runtime<tspan x="227" dy="2.6">(*gcBits)</tspan><tspan x="227" dy="2.6">bytep</tspan><tspan x="227" dy="2.6">0.33s (0.95%)</tspan></text></g>
</svg>
